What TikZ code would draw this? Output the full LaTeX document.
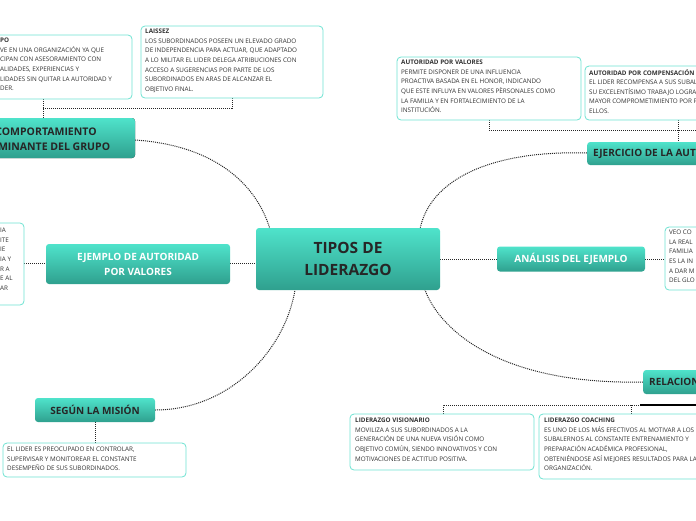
\documentclass[tikz,border=0pt]{standalone}
\usepackage{fontspec}
\setmainfont{Open Sans}
\definecolor{tealtop}{HTML}{4FE3CB}
\definecolor{tealbot}{HTML}{2FA08E}
\definecolor{bord}{HTML}{6EE2D2}
\definecolor{txt}{HTML}{333333}
\tikzset{
 x=1pt,y=-1pt,
 topic/.style={rounded corners=3pt,top color=tealtop,bottom color=tealbot,draw=none,font=\bfseries,align=center,inner sep=0pt},
 note/.style={draw=bord,line width=0.8pt,rounded corners=4pt,fill=white},
 ntext/.style={font=\fontsize{6.3}{9.6}\selectfont,text=txt,align=left,anchor=north west,inner sep=0pt},
 conn/.style={densely dotted,line width=1pt,black!85}
}
\begin{document}
\begin{tikzpicture}
\useasboundingbox (0,0) rectangle (696,520);
\clip (0,0) rectangle (696,520);
% connectors (under nodes)
\coordinate (cL) at (270,229);
\coordinate (cB) at (295,290);
\coordinate (cR) at (420,229);
\coordinate (cBR) at (425,290);
\draw[conn] (135,140) .. controls (210,145) and (255,180) .. (cL);
\draw[conn] (155,410) .. controls (230,410) and (285,350) .. (cB);
\draw[conn] (587,153) .. controls (490,150) and (430,180) .. (cR);
\draw[conn] (643,382) .. controls (500,385) and (440,330) .. (cBR);
\draw[conn] (24,263) -- (46,263);
\draw[conn] (230,263) -- (256,263);
\draw[conn] (440,259) -- (497,259);
\draw[conn] (645,259) -- (665,259);
\draw[conn] (43,99) -- (43,118);
\draw[conn] (43,108) -- (232,108) -- (232,98);
\draw[conn] (489,120) -- (489,130) -- (700,130);
\draw[conn] (678,120) -- (678,142);
\draw[conn] (95,422) -- (95,443);
\draw[conn] (443,414) -- (443,405) -- (700,405);
\draw[conn] (631,405) -- (631,414);
\draw[line width=1.3pt] (640,405) -- (700,405);
% center
\node[topic,minimum width=184pt,minimum height=62pt,font=\bfseries\fontsize{15.5}{22}\selectfont,text=black!85] (c) at (348,259) {TIPOS DE\\LIDERAZGO};
% left topics
\fill[top color=tealtop,bottom color=tealbot,rounded corners=3pt] (-60,118) rectangle (135,158);
\node[font=\bfseries\fontsize{10.5}{15}\selectfont,text=black!85,align=center,inner sep=0pt] (comp) at (46,139) {COMPORTAMIENTO\\DOMINANTE DEL GRUPO};
\node[topic,minimum width=184pt,minimum height=40pt,font=\bfseries\fontsize{10}{15}\selectfont,text=white] (ej) at (138,264) {EJEMPLO DE AUTORIDAD\\POR VALORES};
\node[topic,minimum width=120pt,minimum height=24pt,font=\bfseries\fontsize{10}{12}\selectfont,text=black!85] (seg) at (95,410) {SEGÚN LA MISIÓN};
% right topics
\node[topic,minimum height=23pt,inner xsep=6pt,font=\bfseries\fontsize{10}{12}\selectfont,text=black!85,anchor=west] (ejer) at (587,153.5) {EJERCICIO DE LA AUTORIDAD};
\node[topic,minimum width=148pt,minimum height=25pt,font=\bfseries\fontsize{10}{12}\selectfont,text=white] (an) at (571,259) {ANÁLISIS DEL EJEMPLO};
\node[topic,minimum height=24pt,inner xsep=6pt,font=\bfseries\fontsize{10}{12}\selectfont,text=black!85,anchor=west] (rel) at (643,382) {RELACIONES};
% notes
\draw[note] (-10,35) rectangle (132,99);
\node[ntext] (n1) at (0,38) {\textbf{PO}\\VE EN UNA ORGANIZACIÓN YA QUE\\CIPAN CON ASESORAMIENTO CON\\ALIDADES, EXPERIENCIAS Y\\LIDADES SIN QUITAR LA AUTORIDAD Y\\DER.};
\draw[note] (141,26) rectangle (323,98);
\node[ntext] (n2) at (145,29) {\textbf{LAISSEZ}\\LOS SUBORDINADOS POSEEN UN ELEVADO GRADO\\DE INDEPENDENCIA PARA ACTUAR, QUE ADAPTADO\\A LO MILITAR EL LIDER DELEGA ATRIBUCIONES CON\\ACCESO A SUGERENCIAS POR PARTE DE LOS\\SUBORDINADOS EN ARAS DE ALCANZAR EL\\OBJETIVO FINAL.};
\draw[note] (-10,223) rectangle (24,305);
\node[ntext] (n3) at (0,228) {IA\\ITE\\IE\\IA Y\\R A\\E AL\\AR};
\draw[note] (3,443) rectangle (186,477);
\node[ntext] (n4) at (7,447) {EL LIDER ES PREOCUPADO EN CONTROLAR,\\SUPERVISAR Y MONITOREAR EL CONSTANTE\\DESEMPEÑO DE SUS SUBORDINADOS.};
\draw[note] (397,57) rectangle (581,120);
\node[ntext] (n5) at (401,60) {\textbf{AUTORIDAD POR VALORES}\\PERMITE DISPONER DE UNA INFLUENCIA\\PROACTIVA BASADA EN EL HONOR, INDICANDO\\QUE ESTE INFLUYA EN VALORES PÈRSONALES COMO\\LA FAMILIA Y EN FORTALECIMIENTO DE LA\\INSTITUCIÓN.};
\draw[note] (585,66) rectangle (710,120);
\node[ntext] (n6) at (589,69) {\textbf{AUTORIDAD POR COMPENSACIÓN}\\EL LIDER RECOMPENSA A SUS SUBALTERNOS POR\\SU EXCELENTÍSIMO TRABAJO LOGRANDO\\MAYOR COMPROMETIMIENTO POR PARTE DE\\ELLOS.};
\draw[note] (665,227) rectangle (710,290);
\node[ntext] (n7) at (669,230) {VEO CO\\LA REAL\\FAMILIA\\ES LA IN\\A DAR M\\DEL GLO};
\draw[note] (350,414) rectangle (534,470);
\node[ntext] (n8) at (355,418) {\textbf{LIDERAZGO VISIONARIO}\\MOVILIZA A SUS SUBORDINADOS A LA\\GENERACIÓN DE UNA NUEVA VISIÓN COMO\\OBJETIVO COMÚN, SIENDO INNOVATIVOS Y CON\\MOTIVACIONES DE ACTITUD POSITIVA.};
\draw[note] (539,414) rectangle (710,479);
\node[ntext] (n9) at (544,418) {\textbf{LIDERAZGO COACHING}\\ES UNO DE LOS MÁS EFECTIVOS AL MOTIVAR A LOS\\SUBALERNOS AL CONSTANTE ENTRENAMIENTO Y\\PREPARACIÓN ACADÉMICA PROFESIONAL,\\OBTENIÉNDOSE ASÍ MEJORES RESULTADOS PARA LA\\ORGANIZACIÓN.};
\end{tikzpicture}
\end{document}
